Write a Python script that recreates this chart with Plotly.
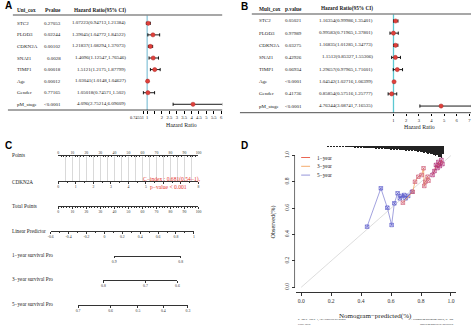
import plotly.graph_objects as go

W, H = 474, 326
def X(px): return px / W
def Y(py): return 1 - py / H

SERIF = "Liberation Serif"
SANS = "Liberation Sans"

# ---------------- data ----------------
variables = ["STC2", "PLOD3", "CDKN2A", "SNAI1", "TIMP1", "Age", "Gender", "pM_stage"]

uni_p = ["0.27053", "0.02244", "0.00102", "0.0028", "0.00018", "0.00012", "0.77165", "<0.0001"]
uni_hr = [1.07223, 1.39045, 1.21837, 1.4096, 1.5121, 1.03041, 1.05018, 4.096]
uni_lo = [0.94713, 1.04772, 1.08294, 1.12547, 1.2175, 1.0148, 0.74571, 2.75214]
uni_hi = [1.21384, 1.84522, 1.37073, 1.76546, 1.87799, 1.04627, 1.502, 6.09609]
uni_ticks = [0.74551, 1, 1.5, 2, 2.5, 3, 3.5, 4, 4.5, 5, 5.5, 6]
uni_ticktext = ["", "1", "", "2", "2.5", "3", "3.5", "4", "4.5", "5", "5.5", "6"]
uni_first_label = "0.74551"

mult_p = ["0.05021", "0.97989", "0.03275", "0.42926", "0.06934", "<0.0001", "0.41736", "<0.0001"]
mult_hr = [1.16354, 0.99583, 1.16835, 1.1512, 1.29657, 1.04542, 0.85854, 4.76344]
mult_lo = [0.99986, 0.71965, 1.01285, 0.85327, 0.97965, 1.02716, 0.57516, 3.08741]
mult_hi = [1.35401, 1.37801, 1.34773, 1.55306, 1.71601, 1.06399, 1.25777, 7.16535]
mult_ticks = [1, 2, 3, 4, 5, 6, 7]

# nomogram
points_ticks = [0, 10, 20, 30, 40, 50, 60, 70, 80, 90, 100]
cdkn2a_ticks = [0, 1, 2, 3, 4, 5, 6, 7, 8]
cdkn2a_ticktext = ["0", "1", "2", "3", "4", "5", "", "", "8"]
total_ticks = [0, 10, 20, 30, 40, 50, 60, 70, 80, 90, 100]
lp_ticks = [-0.6, -0.4, -0.2, 0, 0.2, 0.4, 0.6, 0.8, 1]
surv1_labels = ["0.9", "0.8"]
surv1_pts = [39.9, 87.3]
surv3_labels = ["0.8", "0.7", "0.6"]
surv3_pts = [32.2, 62.2, 85.0]
surv5_labels = ["0.7", "0.6", "0.5", "0.4", "0.3"]
surv5_pts = [14.1, 37.3, 56.8, 74.9, 92.5]

# calibration
cal_ticks = [0.0, 0.2, 0.4, 0.6, 0.8, 1.0]
pred_1y = [0.877, 0.890, 0.900, 0.910, 0.916, 0.926, 0.936, 0.943]
obs_1y = [0.852, 0.882, 0.928, 0.905, 0.951, 0.920, 0.966, 0.935]
pred_3y = [0.679, 0.745, 0.760, 0.782, 0.804, 0.817, 0.822, 0.829, 0.844, 0.850]
obs_3y = [0.642, 0.725, 0.801, 0.839, 0.852, 0.903, 0.769, 0.801, 0.839, 0.809]
pred_5y = [0.440, 0.532, 0.575, 0.604, 0.622, 0.644, 0.659, 0.670, 0.688, 0.697, 0.714, 0.740]
obs_5y = [0.460, 0.751, 0.604, 0.473, 0.637, 0.713, 0.675, 0.693, 0.700, 0.675, 0.693, 0.725]
hist_start = 0.18
hist_heights_px = [0.4, 0.0, 0.4, 0.0, 0.4, 0.0, 0.4, 0.0, 0.5, 0.0, 0.5, 0.0, 0.6, 0.4,
                   0.8, 0.5, 1.0, 0.6, 1.2, 0.8, 1.4, 0.9, 1.5, 1.0, 1.8, 1.2, 2.0, 1.4, 2.2, 1.6, 2.4, 1.8,
                   2.6, 2.0, 2.8, 2.2, 3.0, 2.4, 3.2, 2.6, 3.4, 2.8, 3.6, 3.0, 3.8, 3.2, 4.0, 3.4, 4.2, 3.6, 4.4, 3.8,
                   4.6, 4.0, 4.8, 4.2, 5.0, 4.4, 5.2, 4.6, 5.5, 5.0, 6.0, 5.5, 6.5, 6.0, 7.0,
                   7.5, 7.0, 8.0, 7.5, 8.5, 9.5, 9.0, 10.5, 11.0, 12.0, 8.0]

C1, C3, C5 = "#E8553F", "#F3A35C", "#8A8AD6"

fig = go.Figure()
annotations = []
shapes = []

def txt(x, y, s, size=5.5, anchor="left", bold=False, color="#222", family=SERIF, angle=0):
    if bold:
        s = "<b>" + s + "</b>"
    annotations.append(dict(x=X(x), y=Y(y), xref="paper", yref="paper", text=s, showarrow=False,
                            xanchor=anchor, yanchor="middle", textangle=angle,
                            font=dict(size=size, color=color, family=family)))

def hline(x0, x1, y, color="black", width=0.8):
    shapes.append(dict(type="line", xref="paper", yref="paper", x0=X(x0), x1=X(x1), y0=Y(y), y1=Y(y),
                       line=dict(color=color, width=width)))

# ---------------- panel letters ----------------
txt(0, 5, "A", 10, bold=True, family=SANS, color="black")
txt(239, 6, "B", 10, bold=True, family=SANS, color="black")
txt(0, 145, "C", 10, bold=True, family=SANS, color="black")
txt(239, 145, "D", 10, bold=True, family=SANS, color="black")

# ---------------- forest plots ----------------
def forest(ax, hr, lo, hi, pvals, title, ptitle, cols, rows_y0, row_dy, top_px, bot_px, dom, rng,
           ticks, ticktext, head_line, bot_line, vcolor, xlabel_x):
    n = len(variables)
    i_top = (top_px - rows_y0) / row_dy
    i_bot = (bot_px - rows_y0) / row_dy
    xa = "xaxis" if ax == 1 else "xaxis%d" % ax
    ya = "yaxis" if ax == 1 else "yaxis%d" % ax
    xr = "x" if ax == 1 else "x%d" % ax
    yr = "y" if ax == 1 else "y%d" % ax
    fig.add_trace(go.Scatter(
        x=hr, y=list(range(n)), xaxis=xr, yaxis=yr, mode="markers",
        marker=dict(symbol="circle", size=4.2, color="#E0403A", line=dict(color="#A82828", width=0.5)),
        error_x=dict(type="data", symmetric=False,
                     array=[h - m for h, m in zip(hi, hr)],
                     arrayminus=[m - l for m, l in zip(hr, lo)],
                     color="black", thickness=0.9, width=1.6),
        showlegend=False, hoverinfo="skip"))
    fig.layout[xa] = dict(domain=[X(dom[0]), X(dom[1])], range=rng, anchor=yr,
                          tickvals=ticks, ticktext=ticktext, ticks="outside", ticklen=2.5, tickangle=0,
                          tickwidth=0.8, tickcolor="black", showgrid=False, zeroline=False,
                          showline=False, tickfont=dict(size=4.6, family=SERIF, color="#222"))
    fig.layout[ya] = dict(domain=[Y(bot_px), Y(top_px)], range=[i_bot, i_top], anchor=xr,
                          showticklabels=False, showgrid=False, zeroline=False, showline=False, ticks="")
    shapes.append(dict(type="line", xref=xr, yref="paper", x0=1, x1=1, y0=Y(bot_px), y1=Y(top_px),
                       line=dict(color=vcolor, width=1.3), layer="below"))
    # table text
    hy = top_px - 5
    txt(cols[0], hy, title, 5.3, bold=True)
    txt(cols[1], hy, ptitle, 5.3, anchor="right", bold=True)
    txt(cols[2], hy, "Hazard Ratio(95% CI)", 5.3, anchor="right", bold=True)
    for i in range(n):
        yy = rows_y0 + row_dy * i
        txt(cols[0], yy, variables[i], 5.0)
        txt(cols[1], yy, pvals[i], 5.0, anchor="right")
        txt(cols[2], yy, "%s(%s,%s)" % (hr[i], lo[i], hi[i]), 5.0, anchor="right")
    hline(head_line[0], head_line[1], top_px, color="#8a8a8a", width=1.3)
    hline(bot_line[0], bot_line[1], bot_px, color="#222", width=0.8)
    txt(xlabel_x, bot_px + 14.5, "Hazard Ratio", 5.8)

forest(1, uni_hr, uni_lo, uni_hi, uni_p, "Uni_cox", "Pvalue", [12, 61, 127], 23.3, 11.57, 15, 110,
       [136, 222], [0.333, 6.067], uni_ticks, uni_ticktext, [10, 222], [5, 222], "#8CC6DA", 163)
# first (overlapping) tick label of panel A placed just left of the "1" label
txt(145, 117.6, uni_first_label, 4.3, anchor="right")
forest(2, mult_hr, mult_lo, mult_hi, mult_p, "Mult_cox", "p.value", [257, 305, 377], 21, 12.15, 14, 112.7,
       [380, 474], [-0.21, 7.13], mult_ticks, [str(t) for t in mult_ticks], [252, 474], [240, 474], "#5CC8D2", 404)

# ---------------- nomogram (C) ----------------
PT0, PTS = 56.0, 1.42   # px of 0 points, px per point

def nomo_axis(n, dom_px, rng, py, tickvals, ticktext, side="bottom", minor=None, label=None, label_y=None):
    xr, yr = "x%d" % n, "y%d" % n
    fig.add_trace(go.Scatter(x=[rng[0]], y=[0.5], xaxis=xr, yaxis=yr, mode="markers",
                             marker=dict(opacity=0), showlegend=False, hoverinfo="skip"))
    ax = dict(domain=[X(dom_px[0]), X(dom_px[1])], range=rng, anchor=yr, side=side, tickangle=0,
              tickvals=tickvals, ticktext=ticktext, ticks="outside" if side == "bottom" else "inside",
              ticklen=2, tickwidth=0.6, tickcolor="#333", showline=True, linecolor="#333", linewidth=0.7,
              showgrid=False, zeroline=False, tickfont=dict(size=3.8, family=SERIF, color="#333"))
    if minor:
        ax["minor"] = dict(dtick=minor, ticks=ax["ticks"], ticklen=1.3, tickwidth=0.5, tickcolor="#333",
                           showgrid=False)
    fig.layout["xaxis%d" % n] = ax
    if side == "bottom":
        ydom = [Y(py), Y(py) + 0.004]
    else:
        ydom = [Y(py) - 0.004, Y(py)]
    fig.layout["yaxis%d" % n] = dict(domain=ydom, range=[0, 1], anchor=xr, visible=False)
    if label:
        txt(7, label_y if label_y else py, label, 5.2)

def pts_px(p):
    return PT0 + PTS * p

nomo_axis(3, [pts_px(0), pts_px(100)], [0, 100], 156, points_ticks, [str(t) for t in points_ticks],
          side="top", minor=2, label="Points", label_y=155)
# grid lines between Points and CDKN2A
fig.add_trace(go.Scatter(x=[0], y=[0.5], xaxis="x10", yaxis="y10", mode="markers",
                         marker=dict(opacity=0), showlegend=False, hoverinfo="skip"))
fig.layout["xaxis10"] = dict(domain=[X(pts_px(0)), X(pts_px(100))], range=[0, 100], anchor="y10",
                             showgrid=True, dtick=5, tick0=0, gridcolor="#d9d9d9", gridwidth=0.5,
                             showticklabels=False, ticks="", zeroline=False, showline=False)
fig.layout["yaxis10"] = dict(domain=[Y(181), Y(156)], range=[0, 1], anchor="x10", visible=False)

nomo_axis(4, [pts_px(0), pts_px(100)], [0, 8], 181, cdkn2a_ticks, cdkn2a_ticktext,
          minor=0.5, label="CDKN2A", label_y=181.5)
nomo_axis(5, [pts_px(0), pts_px(100)], [0, 100], 206, total_ticks, [str(t) for t in total_ticks],
          minor=2, label="Total Points", label_y=205.5)
nomo_axis(6, [48.3, 193.3], [-0.6, 1], 231, lp_ticks, ["%g" % t for t in lp_ticks],
          minor=0.1, label="Linear Predictor", label_y=231)
nomo_axis(7, [pts_px(surv1_pts[0]), pts_px(surv1_pts[-1])], [surv1_pts[0], surv1_pts[-1]], 255.5,
          surv1_pts, surv1_labels, label="1\u2212year survival Pro", label_y=255)
nomo_axis(8, [pts_px(surv3_pts[0]), pts_px(surv3_pts[-1])], [surv3_pts[0], surv3_pts[-1]], 280,
          surv3_pts, surv3_labels, label="3\u2212year survival Pro", label_y=279)
nomo_axis(9, [pts_px(surv5_pts[0]), pts_px(surv5_pts[-1])], [surv5_pts[0], surv5_pts[-1]], 305,
          surv5_pts, surv5_labels, label="5\u2212year survival Pro", label_y=304)

txt(171, 179.5, "C\u2212index : 0.681(0.54\u22121),", 5.6, anchor="center", color="#E8312A")
txt(168, 186.5, "p\u2212value < 0.001", 5.6, anchor="center", color="#E8312A")

# ---------------- calibration (D) ----------------
Y0PX, YS = 287.3, 131.8
yr_lo = (Y0PX - 292.3) / YS
yr_hi = (Y0PX - 142) / YS
fig.add_trace(go.Scatter(x=[cal_ticks[0], cal_ticks[-1]], y=[cal_ticks[0], cal_ticks[-1]],
                         xaxis="x11", yaxis="y11", mode="lines", line=dict(color="#d4d4d4", width=0.8),
                         showlegend=False, hoverinfo="skip"))
hist_base = (Y0PX - 146) / YS
hist_x = [hist_start + 0.01 * k for k in range(len(hist_heights_px))]
fig.add_trace(go.Bar(x=hist_x, y=[-h / YS for h in hist_heights_px], base=hist_base, width=0.0035,
                     marker=dict(color="#222", line=dict(width=0)), xaxis="x11", yaxis="y11",
                     showlegend=False, hoverinfo="skip"))
for px_, ob_, col, mk in [(pred_5y, obs_5y, C5, "#5a5acb"), (pred_3y, obs_3y, C3, "#d0607a"),
                          (pred_1y, obs_1y, C1, "#b0307a")]:
    fig.add_trace(go.Scatter(x=px_, y=ob_, xaxis="x11", yaxis="y11", mode="lines+markers",
                             line=dict(color=col, width=0.8),
                             marker=dict(symbol="square-x-open", size=3.5, color=mk, line=dict(width=0.7)),
                             showlegend=False, hoverinfo="skip"))
fig.layout["xaxis11"] = dict(domain=[X(297), X(458.7)], range=[-0.033, 1.033], anchor="y11",
                             tickvals=cal_ticks, ticktext=["%.1f" % t for t in cal_ticks], tickangle=0,
                             ticks="outside", ticklen=3, tickwidth=0.7, tickcolor="#333",
                             showline=True, linecolor="#333", linewidth=0.7, showgrid=False, zeroline=False,
                             tickfont=dict(size=5.6, family=SERIF, color="#333"))
fig.layout["yaxis11"] = dict(domain=[Y(292.3), Y(142)], range=[yr_lo, yr_hi], anchor="free",
                             position=X(295.3),
                             tickvals=cal_ticks, ticktext=["%.1f" % t for t in cal_ticks], tickangle=-90,
                             ticks="outside", ticklen=3, tickwidth=0.7, tickcolor="#333",
                             showline=False, showgrid=False, zeroline=False,
                             tickfont=dict(size=5.6, family=SERIF, color="#333"))
shapes.append(dict(type="line", xref="paper", yref="y11", x0=X(295.3), x1=X(295.3),
                   y0=cal_ticks[0], y1=cal_ticks[-1], line=dict(color="#333", width=0.7)))

# legend
for k, (lab, col) in enumerate([("1\u2212year", C1), ("3\u2212year", C3), ("5\u2212year", C5)]):
    yy = 157.5 + 8.8 * k
    hline(302, 311, yy, color=col, width=0.9)
    txt(316, yy, lab, 5.3)

txt(273, 222, "Observed(%)", 6.2, anchor="center", angle=-90)
txt(377, 316, "Nomogram\u2212predicted(%)", 7, anchor="center")
txt(297, 319.5, "n=345 d=108 p=1, 74.3 subjects per group", 2.8)
txt(297, 324, "Gray: ideal", 2.8)
txt(459, 319.5, "X \u2212 resampling optimism added, B=300", 2.8, anchor="right")
txt(459, 324, "Based on observed\u2212predicted", 2.8, anchor="right")

fig.update_layout(width=W, height=H, margin=dict(l=0, r=0, t=0, b=0), paper_bgcolor="white",
                  plot_bgcolor="rgba(0,0,0,0)", annotations=annotations, shapes=shapes,
                  showlegend=False, bargap=0)
fig.write_html("out.html")
